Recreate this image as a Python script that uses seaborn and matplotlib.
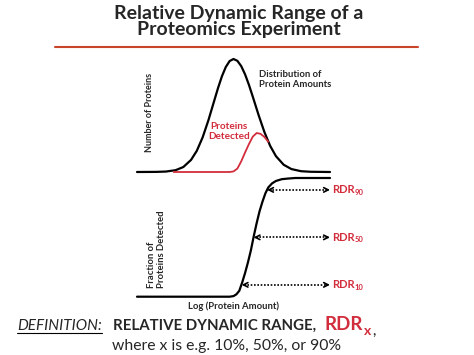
import matplotlib
matplotlib.use("Agg")
import matplotlib.pyplot as plt
import numpy as np
import pandas as pd
import seaborn as sns
from matplotlib.lines import Line2D

# -----------------------------------------------------------------------------
# Data (x = log protein amount, 0..100 across the panel)
# -----------------------------------------------------------------------------
dist_x = [0, 10, 15, 20, 24, 28, 31, 34, 37, 40, 42, 44, 46, 48, 50,
          52, 54, 56, 58, 60, 63, 66, 69, 72, 76, 80, 85, 90, 100]
dist_y = [0, 0.001, 0.004, 0.016, 0.044, 0.107, 0.188, 0.306, 0.458, 0.630,
          0.744, 0.847, 0.929, 0.982, 1.0, 0.984, 0.937, 0.864, 0.771, 0.666,
          0.504, 0.354, 0.231, 0.140, 0.064, 0.026, 0.007, 0.002, 0]

detected_x = [19, 48, 50, 52, 54, 56, 58, 60, 62, 64, 66, 68]
detected_y = [0, 0, 0.005, 0.03, 0.094, 0.173, 0.247, 0.313, 0.345, 0.338,
              0.310, 0.268]

frac_x = [0, 48, 50, 51.5, 53, 54.5, 56, 57.5, 59, 60.5, 62, 63.5, 65, 66.5,
          68, 70, 72, 75, 78, 82, 100]
frac_y = [0, 0, 0.005, 0.02, 0.05, 0.12, 0.2, 0.29, 0.39, 0.51, 0.62, 0.72,
          0.80, 0.87, 0.92, 0.955, 0.975, 0.99, 0.995, 1.0, 1.0]

rdr_levels = [0.1, 0.5, 0.9]
rdr_left = [54.2, 60.4, 67.4]
rdr_labels = ["10", "50", "90"]

RED = "#d22d3c"
LINE_RED = "#c8452a"

sns.set_style("white")
plt.rcParams["font.family"] = ["Lato", "DejaVu Sans"]

W, H = 474, 355
fig = plt.figure(figsize=(W / 100, H / 100), dpi=100)


def fx(px):
    return px / W


def fy(py):
    return 1 - py / H


def add_sub(ax, main, sub, size, color, dy=-2.5):
    # small subscript glued to the right end of a text artist
    return ax.annotate(sub, xy=(1, 0), xycoords=main, xytext=(0.3, dy),
                       textcoords="offset points", ha="left", va="baseline",
                       fontsize=size, fontweight="bold", color=color,
                       annotation_clip=False)


# top panel: distribution of protein amounts
ax1 = fig.add_axes([fx(137), fy(172), fx(330) - fx(137), fy(59) - fy(172)])
sns.lineplot(x=dist_x, y=dist_y, ax=ax1, color="black", lw=1.6, clip_on=False)
sns.lineplot(x=detected_x, y=detected_y, ax=ax1, color=RED, lw=1.3, clip_on=False)
ax1.set_xlim(0, 100)
ax1.set_ylim(0, 1)
ax1.axis("off")

# bottom panel: fraction detected
ax2 = fig.add_axes([fx(137), fy(296.7), fx(330) - fx(137), fy(178) - fy(296.7)])
sns.lineplot(x=frac_x, y=frac_y, ax=ax2, color="black", lw=1.6, clip_on=False)
ax2.set_xlim(0, 100)
ax2.set_ylim(0, 1)
ax2.axis("off")

for lvl, left, lab in zip(rdr_levels, rdr_left, rdr_labels):
    ax2.plot([left + 1, 99], [lvl, lvl], color="black", lw=1.2,
             ls=(0, (1, 1)), clip_on=False)
    for tip, tail in [(left, left + 2), (100, 98)]:
        ax2.annotate("", xy=(tip, lvl), xytext=(tail, lvl),
                     arrowprops=dict(arrowstyle="->", lw=1.2, color="black",
                                     mutation_scale=8, shrinkA=0, shrinkB=0))
    t = ax2.text(101, lvl, "RDR", color=RED, fontsize=8, fontweight="bold",
                 ha="left", va="center", clip_on=False)
    add_sub(ax2, t, lab, 5.5, RED, dy=0.3)

# title
fig.text(fx(239), fy(19.5), "Relative Dynamic Range of a", ha="center",
         va="baseline", fontsize=14, fontweight="bold")
fig.text(fx(239), fy(35.5), "Proteomics Experiment", ha="center",
         va="baseline", fontsize=14, fontweight="bold")
fig.add_artist(Line2D([fx(55), fx(418)], [fy(47.3), fy(47.3)],
                      color=LINE_RED, lw=1.5))

# panel labels
fig.text(fx(150), fy(112), "Number of Proteins", rotation=90, ha="center",
         va="center", fontsize=6.5, fontweight="bold")
fig.text(fx(259), fy(79.5), "Distribution of\nProtein Amounts", ha="left",
         va="center", fontsize=6.8, fontweight="bold", linespacing=1.25)
fig.text(fx(229), fy(131.5), "Proteins\nDetected", ha="center", va="center",
         fontsize=7.2, fontweight="bold", color=RED, linespacing=1.15)
fig.text(fx(156.5), fy(249), "Fraction of\nProteins Detected", rotation=90,
         ha="center", va="center", multialignment="left", fontsize=6.8,
         fontweight="bold", linespacing=1.2)
fig.text(fx(234), fy(306), "Log (Protein Amount)", ha="center", va="center",
         fontsize=6.8, fontweight="bold")

# definition lines
fig.text(fx(17), fy(330), "DEFINITION:", ha="left", va="baseline",
         fontsize=11, fontstyle="italic")
fig.add_artist(Line2D([fx(17), fx(102)], [fy(332.5), fy(332.5)], color="black", lw=0.8))
fig.text(fx(113), fy(330), "RELATIVE DYNAMIC RANGE,", ha="left", va="baseline",
         fontsize=10.8, fontweight="bold")
rdr = ax2.text(fx(325), fy(330), "RDR", transform=fig.transFigure, ha="left",
               va="baseline", fontsize=13.5, fontweight="bold", color=RED,
               clip_on=False)
xs = add_sub(ax2, rdr, "x", 10, RED, dy=-1.2)
ax2.annotate(",", xy=(1, 0), xycoords=xs, xytext=(0.5, 1.5),
             textcoords="offset points", ha="left", va="baseline",
             fontsize=10.8, annotation_clip=False)
fig.text(fx(112), fy(350), "where x is e.g. 10%, 50%, or 90%", ha="left",
         va="baseline", fontsize=11.3)

plt.savefig("out.png", dpi=100)
